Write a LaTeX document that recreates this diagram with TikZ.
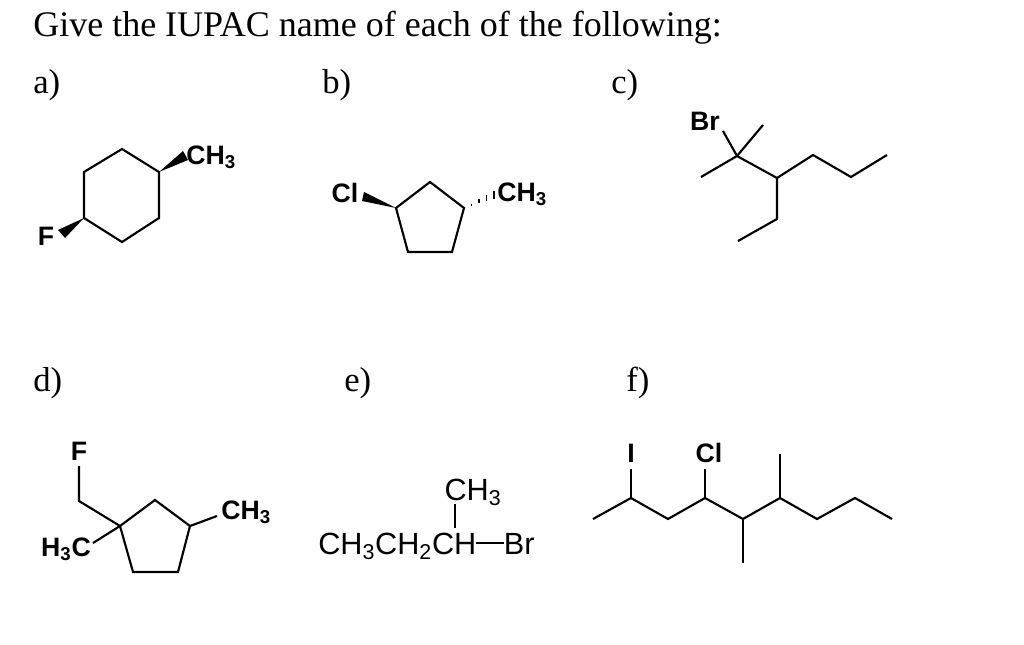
\documentclass[tikz,border=0pt]{standalone}
\usepackage{fontspec}
\usetikzlibrary{calc}
\setmainfont{Liberation Serif}
\newfontfamily\atomfont{Liberation Sans}
\begin{document}
\begin{tikzpicture}[x=0.75pt,y=-0.75pt,
  bond/.style={line width=1.6pt},
  atom/.style={font=\atomfont\bfseries\fontsize{20}{20}\selectfont, inner sep=0pt},
  plain/.style={font=\atomfont\fontsize{23}{23}\selectfont, inner sep=0pt},
  lbl/.style={font=\fontsize{26}{26}\selectfont, inner sep=0pt, anchor=west}]
\useasboundingbox (0,0) rectangle (1024,645);
\node[font=\fontsize{27}{27}\selectfont, anchor=west, inner sep=0pt] (title) at (33,28) {Give the IUPAC name of each of the following:};
\node[lbl] (la) at (33,85) {a)};
\node[lbl] (lb) at (322,85) {b)};
\node[lbl] (lc) at (611,85) {c)};
\node[lbl] (ld) at (33,383) {d)};
\node[lbl] (le) at (344,383) {e)};
\node[lbl] (lf) at (626,383) {f)};
% a
\coordinate (a1) at (122,149); \coordinate (a2) at (159,172); \coordinate (a3) at (159,218);
\coordinate (a4) at (122,242); \coordinate (a5) at (84,218); \coordinate (a6) at (84,172);
\draw[bond] (a1)--(a2)--(a3)--(a4)--(a5)--(a6)--cycle;
\node[atom, anchor=west] (ach3) at (186,157) {CH\textsubscript{3}};
\fill (a2) -- (183,151) -- (188,160) -- cycle;
\node[atom] (af) at (46,236) {F};
\fill (a5) -- (58,230) -- (65,238) -- cycle;
% b
\coordinate (b1) at (430,182); \coordinate (b2) at (464,208); \coordinate (b3) at (452,252);
\coordinate (b4) at (408,252); \coordinate (b5) at (396,208);
\draw[bond] (b1)--(b2)--(b3)--(b4)--(b5)--cycle;
\node[atom] (bcl) at (345,193) {Cl};
\fill (b5) -- (364,192) -- (362,201) -- cycle;
\node[atom, anchor=west] (bch3) at (497,194) {CH\textsubscript{3}};
\coordinate (bh) at (494,195);
\foreach \t in {0.25,0.5,0.75,1.0}{
  \draw[line width=1.2pt] ($(b2)!\t!(bh)+(0,-4*\t)$) -- ($(b2)!\t!(bh)+(0,4*\t)$);}
% c
\node[atom] (cbr) at (705,121) {Br};
\coordinate (cq) at (737,156); \coordinate (cch) at (777,178);
\draw[bond] (cq)--(723,131);
\draw[bond] (cq)--(763,125);
\draw[bond] (cq)--(701,177);
\draw[bond] (cq)--(cch)--(813,155)--(851,177)--(887,155);
\draw[bond] (cch)--(777,219)--(738,241);
% d
\node[atom] (df) at (79,451) {F};
\coordinate (d1) at (120,526); \coordinate (d2) at (155,500); \coordinate (d3) at (190,526);
\coordinate (d4) at (178,572); \coordinate (d5) at (133,572);
\draw[bond] (d1)--(d2)--(d3)--(d4)--(d5)--cycle;
\draw[bond] (79,466)--(79,501)--(d1);
\draw[bond] (d3)--(217,516);
\node[atom, anchor=west] (dch3) at (221,512) {CH\textsubscript{3}};
\node[atom] (dh3c) at (66,549) {H\textsubscript{3}C};
\draw[bond] (d1)--(93,543);
% e
\node[plain] (ech3) at (473,492) {CH\textsubscript{3}};
\node[plain, anchor=west] (echain) at (318,546) {CH\textsubscript{3}CH\textsubscript{2}CH\rule[0.33em]{0.9em}{0.06em}Br};
\draw[line width=1pt] (455,504)--(455,528);
% f
\node[atom] (fi) at (631,453) {I};
\node[atom] (fcl) at (709,453) {Cl};
\draw[bond] (593,519)--(631,498)--(668,519)--(705,498)--(743,519)--(780,498)--(817,519)--(855,498)--(892,519);
\draw[bond] (631,498)--(631,469);
\draw[bond] (705,498)--(705,469);
\draw[bond] (780,498)--(780,454);
\draw[bond] (743,519)--(743,563);
\end{tikzpicture}
\end{document}
